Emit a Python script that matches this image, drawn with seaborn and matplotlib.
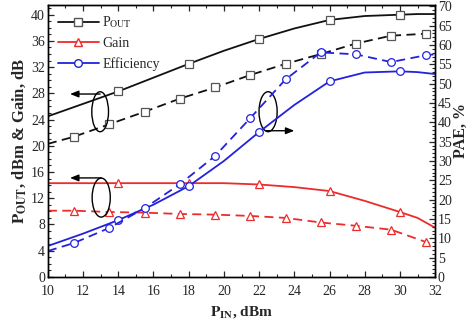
import matplotlib
matplotlib.use("Agg")
import matplotlib.pyplot as plt
from matplotlib.patches import Ellipse
from matplotlib.lines import Line2D
from matplotlib.ticker import MultipleLocator
import seaborn as sns

sns.set_style("ticks")
plt.rcParams["font.family"] = ["Liberation Serif", "DejaVu Serif"]
plt.rcParams["mathtext.fontset"] = "stix"

# Solid curves (fitted), markers every 4 dBm
pin_solid = [10, 12, 14, 16, 18, 20, 22, 24, 26, 28, 30, 31, 32]
pout_solid = [24.5, 26.4, 28.3, 30.4, 32.5, 34.5, 36.3, 37.9, 39.2, 39.8, 40.0, 40.1, 40.1]
gain_solid = [14.3, 14.3, 14.3, 14.3, 14.3, 14.3, 14.1, 13.7, 13.1, 11.6, 9.9, 9.0, 7.5]
pae_solid = [8.0, 11.2, 14.7, 18.7, 23.5, 30.0, 37.5, 44.5, 50.6, 52.9, 53.2, 53.0, 52.5]
solid_marks = [2, 4, 6, 8, 10]

# Dashed curves (measured)
pin_dash = [10, 11.5, 13.5, 15.5, 17.5, 19.5, 21.5, 23.5, 25.5, 27.5, 29.5, 31.5, 32]
pout_dash = [20.3, 21.4, 23.3, 25.2, 27.2, 28.9, 30.8, 32.5, 34.0, 35.6, 36.8, 37.1, 37.2]
gain_dash = [10.1, 10.1, 9.9, 9.8, 9.6, 9.5, 9.3, 9.0, 8.3, 7.8, 7.2, 5.3, 4.9]
pae_dash = [6.7, 8.8, 12.7, 17.8, 24.0, 31.3, 41.1, 51.1, 58.1, 57.6, 55.6, 57.4, 57.6]
dash_marks = list(range(1, 12))

legend_labels = [r"P$_{\rm OUT}$", "Gain", "Efficiency"]

c_black = "#111111"
c_red = "#ee2b2b"
c_blue = "#2222dd"
c_sq = "#555555"
dash_ls = (0, (5, 3))
lw = 1.3
ms = 5.5

fig = plt.figure(figsize=(4.74, 3.25), dpi=100)
ax = fig.add_axes([0.101, 0.148, 0.817, 0.837])
ax2 = ax.twinx()


def draw(axis, x, y, color, marker, mec, marks, ls):
    sns.lineplot(x=x, y=y, ax=axis, color=color, lw=lw, linestyle=ls,
                 marker=marker, markevery=marks, markersize=ms,
                 markerfacecolor="white", markeredgecolor=mec,
                 markeredgewidth=0.9, estimator=None, legend=False)


draw(ax, pin_solid, pout_solid, c_black, "s", c_sq, solid_marks, "-")
draw(ax, pin_dash, pout_dash, c_black, "s", c_sq, dash_marks, dash_ls)
draw(ax, pin_solid, gain_solid, c_red, "^", c_red, solid_marks, "-")
draw(ax, pin_dash, gain_dash, c_red, "^", c_red, dash_marks, dash_ls)
draw(ax2, pin_solid, pae_solid, c_blue, "o", c_blue, solid_marks, "-")
draw(ax2, pin_dash, pae_dash, c_blue, "o", c_blue, dash_marks, dash_ls)

ax.set_xlim(10, 32)
ax.set_ylim(0, 41.5)
ax2.set_ylim(0, 70.4)

ax.xaxis.set_major_locator(MultipleLocator(2))
ax.xaxis.set_minor_locator(MultipleLocator(1))
ax.yaxis.set_major_locator(MultipleLocator(4))
ax.yaxis.set_minor_locator(MultipleLocator(1))
ax2.yaxis.set_major_locator(MultipleLocator(5))
ax2.yaxis.set_minor_locator(MultipleLocator(1))

for a in (ax, ax2):
    for s in a.spines.values():
        s.set_linewidth(1.0)
        s.set_color("black")
        s.set_visible(True)

ax.tick_params(axis="x", which="both", direction="in", top=True, bottom=True,
               labelsize=10, pad=6)
ax.tick_params(axis="y", which="both", direction="in", left=True, right=False,
               labelsize=10, pad=2)
ax.tick_params(which="major", length=4, width=0.9)
ax.tick_params(which="minor", length=2, width=0.8)
ax2.tick_params(axis="y", which="both", direction="in", right=True, labelsize=10, pad=2)
ax2.tick_params(which="major", length=4, width=0.9)
ax2.tick_params(which="minor", length=2, width=0.8)

ax.set_xlabel(r"$\mathbf{P_{IN}}$, dBm", fontsize=11, fontweight="bold", labelpad=4)
ax.set_ylabel(r"$\mathbf{P_{OUT}}$, dBm & Gain, dB", fontsize=12, fontweight="bold", labelpad=2)
fig.text(0.973, 0.6, "PAE, %", rotation=90, ha="center", va="center",
         fontsize=11.5, fontweight="bold")

# Legend
handles = [
    Line2D([], [], color=c_black, lw=lw, marker="s", ms=ms, mfc="white", mec=c_sq),
    Line2D([], [], color=c_red, lw=lw, marker="^", ms=ms, mfc="white", mec=c_red),
    Line2D([], [], color=c_blue, lw=lw, marker="o", ms=ms, mfc="white", mec=c_blue),
]
ax.legend(handles, legend_labels, loc="upper left", bbox_to_anchor=(0.0, 1.0),
          frameon=False, fontsize=10, handlelength=3.0, handletextpad=0.2,
          labelspacing=0.5, borderaxespad=0.3, borderpad=0.4)

# Grouping ellipses with axis-direction arrows
for cx, cy, w, h in [(12.97, 25.2, 0.95, 6.1), (13.03, 12.1, 1.03, 5.95), (22.51, 25.2, 1.03, 6.1)]:
    ax.add_patch(Ellipse((cx, cy), w, h, fill=False, edgecolor="black", lw=1.0, zorder=5))

arrow = dict(arrowstyle="-|>,head_length=0.5,head_width=0.2", color="black", lw=1.0,
             shrinkA=0, shrinkB=0)
ax.annotate("", xy=(11.26, 27.9), xytext=(12.97, 27.9), arrowprops=arrow)
ax.annotate("", xy=(11.26, 15.1), xytext=(13.03, 15.1), arrowprops=arrow)
ax.annotate("", xy=(24.0, 22.3), xytext=(22.4, 22.3), arrowprops=arrow)

fig.savefig("out.png", dpi=100)
